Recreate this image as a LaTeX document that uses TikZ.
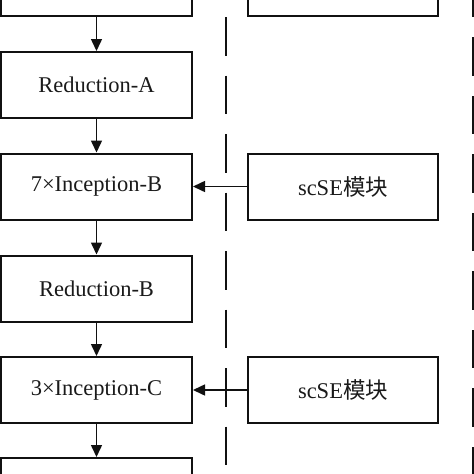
\documentclass[tikz,border=0pt]{standalone}
\usepackage{fontspec}
\setmainfont{Liberation Serif}
\newfontfamily\cjk{Noto Sans CJK SC}
\usepackage{tikz}
\usetikzlibrary{arrows.meta,positioning}
\definecolor{linecolor}{HTML}{111111}
\definecolor{textcolor}{HTML}{1A1A1A}
\tikzset{
  >=Triangle,
  stage block/.style={
    rectangle,
    draw=linecolor,
    line width=2pt,
    minimum width=191pt,
    minimum height=66pt,
    inner sep=0pt,
    text=textcolor,
    font=\fontsize{22.5}{26}\selectfont
  },
  attention block/.style={
    rectangle,
    draw=linecolor,
    line width=2pt,
    minimum width=190pt,
    minimum height=66pt,
    inner sep=0pt,
    text=textcolor,
    font=\fontsize{22.5}{26}\selectfont
  },
  flow/.style={
    draw=linecolor,
    line width=1.5pt,
    -{Triangle[length=12pt,width=11pt]}
  },
  divider/.style={
    draw=linecolor,
    line width=2pt,
    dash pattern=on 38.5pt off 20pt
  }
}
\newcommand{\connectstages}[1]{%
  \foreach \a/\b in {#1}{
    \draw[flow] (\a.south) -- (\b.north);
  }
}

\begin{document}
\begin{tikzpicture}[x=1pt,y=-1pt]
  \useasboundingbox (0,0) rectangle (474,474);
  \clip (0,0) rectangle (474,474);

  \node[stage block] (L-0) at (96.5,-17) {};
  \node[stage block] (L-1) at (96.5,85) {Reduction-A};
  \node[stage block] (L-2) at (96.5,186.5) {7×Inception-B};
  \node[stage block] (L-3) at (96.5,288.5) {Reduction-B};
  \node[stage block] (L-4) at (96.5,390) {3×Inception-C};
  \node[stage block] (L-5) at (96.5,491) {};

  \node[attention block] (S-0) at (343,-17) {};
  \node[attention block] (S-1) at (343,186.5) {scSE{\cjk 模块}};
  \node[attention block] (S-2) at (343,390) {scSE{\cjk 模块}};

  \connectstages{L-0/L-1,L-1/L-2,L-2/L-3,L-3/L-4,L-4/L-5}
  \draw[flow] (S-1.west) -- (L-2.east);
  \draw[flow] (S-2.west) -- (L-4.east);

  % dashed separators
  \draw[divider] (226,-41.5) -- (226,490);
  \draw[divider,line width=2.5pt] (473.5,-21.5) -- (473.5,490);
\end{tikzpicture}
\end{document}
